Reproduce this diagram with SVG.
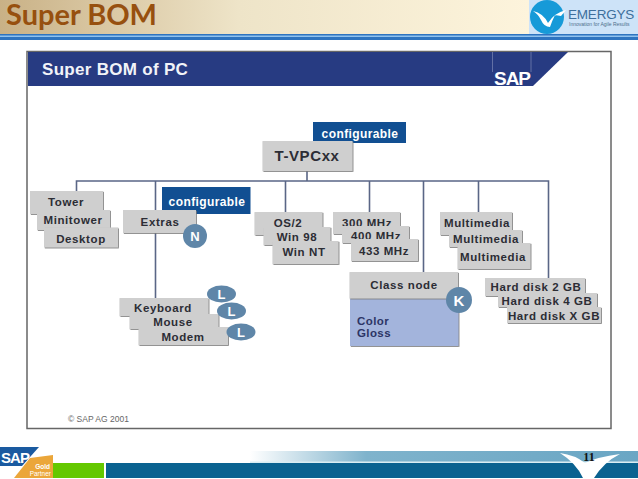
<svg xmlns="http://www.w3.org/2000/svg" width="638" height="479" viewBox="0 0 638 479">
<style>
.b{fill:#cfcfcf;filter:url(#sh)}
.t{font-family:"Liberation Sans",Arial,sans-serif;font-weight:700;font-size:11.500px;fill:#2c2d35;text-anchor:middle;letter-spacing:.6px}
.w{font-family:"Liberation Sans",Arial,sans-serif;font-weight:700;fill:#fff;text-anchor:middle}
.c{fill:#5f86a8}
.cn{fill:none;stroke:#5a6686;stroke-width:1.6}
</style>
<defs>
<linearGradient id="hd" x1="0" x2="1" y1="0" y2="0"><stop offset="0" stop-color="#c9b186"/><stop offset=".45" stop-color="#eee4c8"/><stop offset="1" stop-color="#fdf4dc"/></linearGradient>
<linearGradient id="ft" x1="0" x2="1" y1="0" y2="0"><stop offset="0" stop-color="#fff"/><stop offset=".3" stop-color="#7fb3cc"/><stop offset="1" stop-color="#6aa6c4"/></linearGradient>
<filter id="sh" x="-5%" y="-10%" width="110%" height="125%"><feDropShadow dx=".8" dy=".8" stdDeviation=".3" flood-color="#777"/></filter>
</defs>
<rect width="638" height="479" fill="#fff"/>
<g id="header">
<rect width="529" height="34" fill="url(#hd)"/>
<rect x="529" width="109" height="34" fill="#cde3f8"/>
<rect y="34" width="638" height="6" fill="#2e74c0"/>
<rect y="35.500" width="638" height="1.500" fill="#8fc2ee"/>
<text x="6" y="25" font-family="Lato,Open Sans,sans-serif" font-weight="700" font-size="28" fill="#97500f" textLength="151" lengthAdjust="spacingAndGlyphs">Super BOM</text>
<circle cx="547" cy="17" r="17" fill="#169ad8"/>
<path d="M533 11Q543 13 548 23Q554 13 566 10L561 16L555 15Q552 21 550 27Q544 27 541 20Q538 14 533 11Z" fill="#fff"/>
<text x="568" y="18.500" font-family="Liberation Sans,sans-serif" font-size="13.500" fill="#3d6f9c" letter-spacing="-.2">EMERGYS</text>
<text x="569" y="25.500" font-family="Liberation Sans,sans-serif" font-size="5" fill="#4f6f8c">Innovation for Agile Results</text>
</g>
<g id="frame">
<rect x="27" y="51.500" width="584" height="377" fill="#fff" stroke="#666" stroke-width="1.500"/>
<path d="M28 52H568L533 86H28Z" fill="#273b82"/>
<text x="42" y="75" font-family="Liberation Sans,sans-serif" font-weight="700" font-size="17" fill="#f1f3f8" letter-spacing=".3">Super BOM of PC</text>
<path d="M492.500 52V72M531 52V72" stroke="#7c88b4" stroke-width=".7" fill="none"/>
<text x="512" y="85" font-family="Liberation Sans,sans-serif" font-weight="700" font-size="19" fill="#fff" text-anchor="middle" letter-spacing="-1">SAP</text>
<text x="68" y="422" font-family="Liberation Sans,sans-serif" font-size="8.500" fill="#666">©  SAP AG 2001</text>
</g>
<g id="connectors" class="cn">
<path d="M307 171V181M76.500 191V181H548.500V278M155.500 181V299M285.500 181V212M369.500 181V212M423.500 181V273M478.500 181V212"/>
</g>
<g id="configurable-top"><rect x="313" y="122" width="93" height="21" fill="#114f92"/><text class="w" x="360" y="138" font-size="12" letter-spacing=".4">configurable</text></g>
<g id="t-vpcxx"><rect x="262.500" y="141" width="90" height="30" class="b"/><text class="t" x="307" y="161" style="font-size:15px">T-VPCxx</text></g>
<g id="tower"><rect x="30" y="191" width="73" height="23" class="b"/><text class="t" x="66" y="206">Tower</text></g>
<g id="minitower"><rect x="37" y="210" width="73" height="20" class="b"/><text class="t" x="73" y="224">Minitower</text></g>
<g id="desktop"><rect x="44" y="227.500" width="74" height="20" class="b"/><text class="t" x="81" y="243">Desktop</text></g>
<g id="configurable-extras"><rect x="162" y="187" width="88.500" height="27" fill="#114f92"/><text class="w" x="207" y="206" font-size="12" letter-spacing=".4">configurable</text></g>
<g id="extras"><rect x="123" y="210" width="73" height="23" class="b"/><text class="t" x="160" y="226">Extras</text><circle class="c" cx="195" cy="236" r="12"/><text class="w" x="195" y="241" font-size="13">N</text></g>
<g id="os2"><rect x="254.500" y="212" width="68" height="23" class="b"/><text class="t" x="288" y="227">OS/2</text></g>
<g id="win98"><rect x="263.500" y="227" width="67" height="18" class="b"/><text class="t" x="297" y="241">Win 98</text></g>
<g id="winnt"><rect x="272.500" y="241" width="66" height="23" class="b"/><text class="t" x="304" y="256">Win NT</text></g>
<g id="mhz300"><rect x="333" y="212" width="67" height="22" class="b"/><text class="t" x="367" y="227">300 MHz</text></g>
<g id="mhz400"><rect x="342" y="226" width="67" height="17" class="b"/><text class="t" x="376" y="240">400 MHz</text></g>
<g id="mhz433"><rect x="351" y="239" width="67" height="22" class="b"/><text class="t" x="384" y="255">433 MHz</text></g>
<g id="multimedia1"><rect x="440" y="212" width="72" height="23" class="b"/><text class="t" x="477" y="227">Multimedia</text></g>
<g id="multimedia2"><rect x="449" y="230" width="73" height="17" class="b"/><text class="t" x="486" y="243">Multimedia</text></g>
<g id="multimedia3"><rect x="457.500" y="243" width="73" height="26" class="b"/><text class="t" x="493" y="261">Multimedia</text></g>
<g id="class-node"><rect x="350" y="298" width="108.500" height="48" fill="#a3b4dc" filter="url(#sh)"/><rect x="349.500" y="272" width="108.500" height="26.500" class="b"/><text class="t" x="404" y="289">Class node</text><text x="357" y="325" font-family="Liberation Sans,sans-serif" font-weight="700" font-size="11.500" fill="#2c3566" letter-spacing=".4">Color</text><text x="357" y="337" font-family="Liberation Sans,sans-serif" font-weight="700" font-size="11.500" fill="#2c3566" letter-spacing=".4">Gloss</text><circle class="c" cx="459" cy="300" r="13"/><text class="w" x="459" y="306" font-size="15">K</text></g>
<g id="hd2"><rect x="485" y="278" width="100" height="18" class="b"/><text class="t" x="536" y="291">Hard disk 2 GB</text></g>
<g id="hd4"><rect x="498" y="293" width="99" height="14" class="b"/><text class="t" x="547" y="305">Hard disk 4 GB</text></g>
<g id="hdx"><rect x="507" y="307" width="94" height="16" class="b"/><text class="t" x="554" y="320">Hard disk X GB</text></g>
<g id="keyboard"><rect x="119.500" y="298" width="89" height="18" class="b"/><text class="t" x="163" y="312">Keyboard</text><ellipse class="c" cx="221.500" cy="294" rx="14.500" ry="8.500"/><text class="w" x="221.500" y="299" font-size="13">L</text></g>
<g id="mouse"><rect x="129.500" y="314" width="89" height="15" class="b"/><text class="t" x="173" y="326">Mouse</text><ellipse class="c" cx="231.500" cy="311" rx="14.500" ry="8.500"/><text class="w" x="231.500" y="316" font-size="13">L</text></g>
<g id="modem"><rect x="138.500" y="327" width="89.500" height="18" class="b"/><text class="t" x="183" y="341">Modem</text><ellipse class="c" cx="241" cy="332" rx="14.500" ry="8.500"/><text class="w" x="241" y="337" font-size="13">L</text></g>
<g id="footer">
<rect x="250" y="451" width="388" height="12" fill="url(#ft)"/>
<rect x="250" y="461.500" width="388" height="1.500" fill="#d9edf3"/>
<rect x="53" y="463" width="51" height="15" fill="#64c800"/>
<rect x="106" y="463" width="532" height="15" fill="#0a6290"/>
<path d="M560 453Q575 455 585 463Q597 457 620 454Q604 462 594 478H583Q576 463 560 453Z" fill="#fff"/>
<text x="589" y="461" font-family="Liberation Serif,serif" font-weight="700" font-size="12" fill="#111" text-anchor="middle">11</text>
<path d="M14 478L30 458L53 455V478Z" fill="#eba63a"/>
<path d="M0 447H39L22 466H0Z" fill="#1a5aa0"/>
<text x="15" y="463" font-family="Liberation Sans,sans-serif" font-weight="700" font-size="15" fill="#fff" text-anchor="middle" letter-spacing="-1">SAP</text>
<text x="50" y="469" font-family="Liberation Sans,sans-serif" font-weight="700" font-size="6.500" fill="#fff" text-anchor="end">Gold</text>
<text x="51" y="476" font-family="Liberation Sans,sans-serif" font-size="6.500" fill="#fff" text-anchor="end">Partner</text>
</g>
</svg>
